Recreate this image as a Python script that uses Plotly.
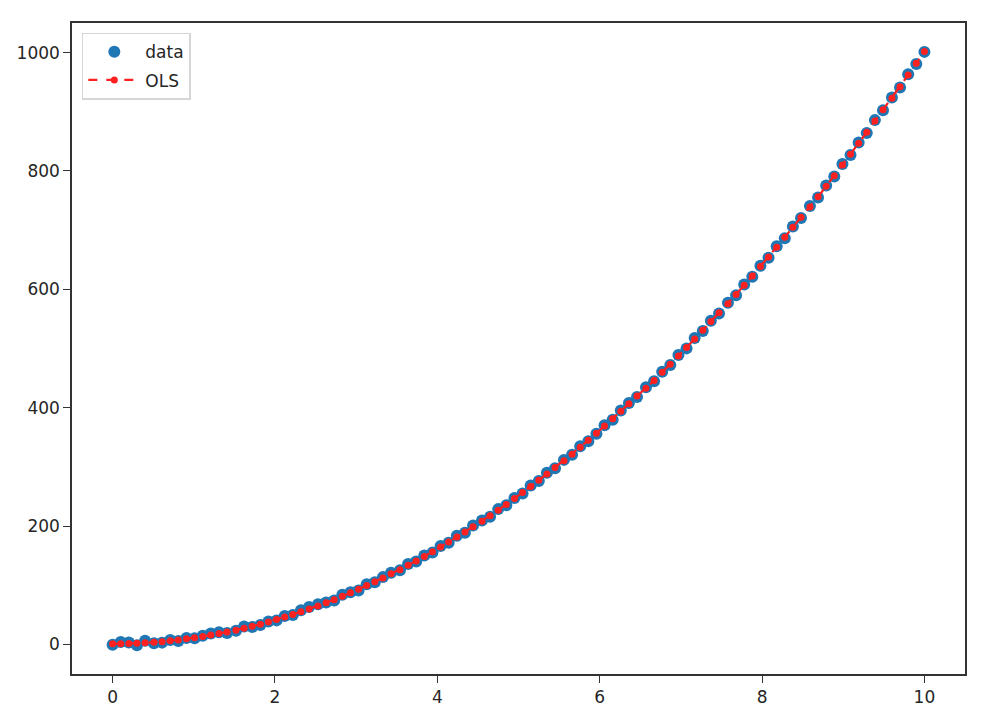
import plotly.graph_objects as go

# x positions of the samples (0 .. 10, 100 points)
x_vals = [0.00, 0.10, 0.20, 0.30, 0.40, 0.51, 0.61, 0.71, 0.81, 0.91,
          1.01, 1.11, 1.21, 1.31, 1.41, 1.52, 1.62, 1.72, 1.82, 1.92,
          2.02, 2.12, 2.22, 2.32, 2.42, 2.53, 2.63, 2.73, 2.83, 2.93,
          3.03, 3.13, 3.23, 3.33, 3.43, 3.54, 3.64, 3.74, 3.84, 3.94,
          4.04, 4.14, 4.24, 4.34, 4.44, 4.55, 4.65, 4.75, 4.85, 4.95,
          5.05, 5.15, 5.25, 5.35, 5.45, 5.56, 5.66, 5.76, 5.86, 5.96,
          6.06, 6.16, 6.26, 6.36, 6.46, 6.57, 6.67, 6.77, 6.87, 6.97,
          7.07, 7.17, 7.27, 7.37, 7.47, 7.58, 7.68, 7.78, 7.88, 7.98,
          8.08, 8.18, 8.28, 8.38, 8.48, 8.59, 8.69, 8.79, 8.89, 8.99,
          9.09, 9.19, 9.29, 9.39, 9.49, 9.60, 9.70, 9.80, 9.90, 10.00]

# observed values
data_vals = [-0.5, 4.0, 3.2, -1.5, 6.0, 2.1, 3.0, 7.5, 5.9, 11.0,
             10.2, 14.8, 18.6, 20.5, 19.4, 23.2, 30.1, 29.5, 32.8, 38.9,
             40.6, 48.0, 49.8, 57.9, 63.1, 67.7, 71.0, 74.2, 83.9, 88.3,
             91.2, 101.5, 104.9, 113.7, 121.2, 125.4, 135.9, 140.2, 150.3, 155.1,
             166.2, 171.6, 183.5, 188.7, 200.8, 209.4, 215.9, 228.6, 235.2, 247.3,
             255.0, 268.4, 276.1, 289.9, 297.6, 311.8, 320.3, 334.7, 343.2, 355.9,
             370.4, 379.8, 395.2, 408.1, 418.0, 434.5, 444.7, 460.9, 472.3, 489.0,
             500.2, 517.6, 529.4, 546.8, 559.3, 577.2, 589.8, 608.3, 621.1, 640.0,
             653.5, 672.6, 686.4, 706.1, 720.5, 740.6, 755.1, 775.5, 790.6, 811.7,
             827.0, 848.2, 864.3, 885.9, 902.4, 924.2, 941.0, 963.5, 980.7, 1001.2]

# fitted values (OLS)
ols_vals = [1.0, 1.1, 1.4, 2.0, 2.7, 3.6, 4.7, 6.1, 7.6, 9.4,
            11.3, 13.5, 15.8, 18.4, 21.1, 24.1, 27.3, 30.7, 34.2, 38.0,
            42.0, 46.2, 50.6, 55.2, 60.0, 65.0, 70.2, 75.6, 81.3, 87.1,
            93.1, 99.4, 105.8, 112.4, 119.3, 126.3, 133.6, 141.1, 148.7, 156.6,
            164.7, 173.0, 181.4, 190.1, 199.0, 208.1, 217.4, 226.9, 236.6, 246.5,
            256.6, 266.9, 277.4, 288.1, 299.1, 310.2, 321.5, 333.1, 344.8, 356.8,
            368.9, 381.3, 393.9, 406.6, 419.6, 432.8, 446.1, 459.7, 473.5, 487.5,
            501.7, 516.1, 530.7, 545.5, 560.5, 575.7, 591.1, 606.7, 622.5, 638.6,
            654.8, 671.2, 687.9, 704.7, 721.8, 739.0, 756.5, 774.2, 792.0, 810.1,
            828.4, 846.9, 865.6, 884.5, 903.6, 922.9, 942.4, 962.1, 982.0, 1002.0]

x_ticks = [0, 2, 4, 6, 8, 10]
y_ticks = [0, 200, 400, 600, 800, 1000]

fig = go.Figure()
fig.add_scatter(x=x_vals, y=data_vals, mode='markers', name='data', legendgroup='a',
                marker=dict(color='#1f77b4', size=12, line=dict(width=0)))
fig.add_scatter(x=x_vals, y=ols_vals, mode='lines+markers', name='OLS', legendgroup='b',
                line=dict(color='#ff2020', dash='dash', width=2.2),
                marker=dict(color='#ff2020', size=7, line=dict(width=0)))

axis_style = dict(
    showgrid=False, zeroline=False, showline=True, mirror=True,
    linecolor='#333333', linewidth=1.5, automargin=False,
    ticks='outside', ticklen=7, tickwidth=1.3, tickcolor='#333333',
    tickfont=dict(family='DejaVu Sans', size=17, color='#262626'),
)

fig.update_xaxes(range=[-0.5, 10.5], tickvals=x_ticks, **axis_style)
fig.update_yaxes(range=[-50, 1050], tickvals=y_ticks, **axis_style)

# page body has an 8px margin, so margins are trimmed by that much
fig.update_layout(
    width=996, height=726,
    margin=dict(l=64, r=39, t=15, b=60),
    plot_bgcolor='white', paper_bgcolor='white',
    font=dict(family='DejaVu Sans', size=17, color='#262626'),
    legend=dict(
        x=0.011, y=0.985, xanchor='left', yanchor='top',
        bgcolor='rgba(255,255,255,0.8)',
        bordercolor='#d6d6d6', borderwidth=1.5,
        itemwidth=52, tracegroupgap=3,
        font=dict(family='DejaVu Sans', size=17, color='#262626'),
    ),
)

fig.write_html("out.html")
